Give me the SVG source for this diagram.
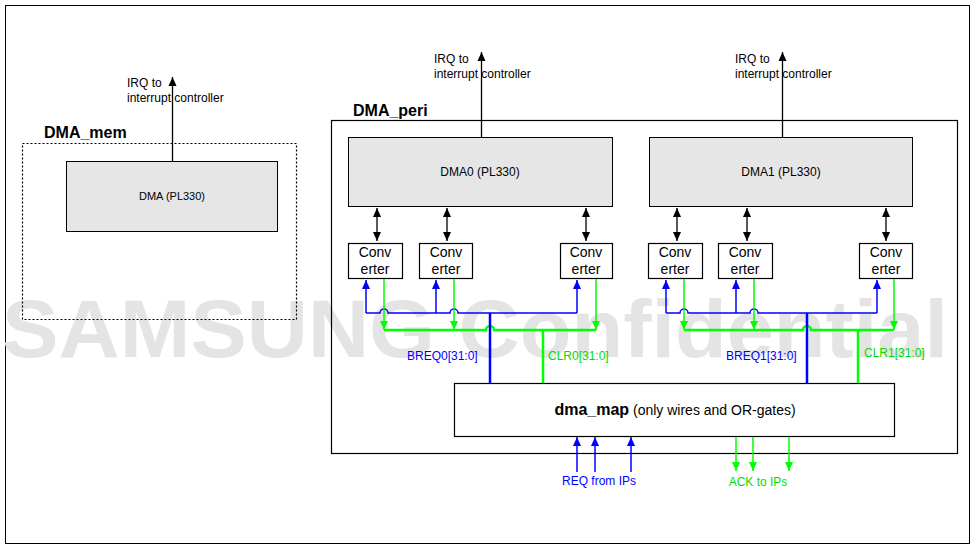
<svg xmlns="http://www.w3.org/2000/svg" width="978" height="550" viewBox="0 0 978 550">
<defs>
<style>
text{font-family:"Liberation Sans",Arial,sans-serif;}
.box{fill:#fff;stroke:#000;stroke-width:1.2}
.dma{fill:#e6e6e6;stroke:#000;stroke-width:1}
.k{stroke:#000;stroke-width:1.3;fill:none}
.b{stroke:#0000ff;stroke-width:1.5;fill:none}
.g{stroke:#00ff00;stroke-width:1.5;fill:none}
.bw{stroke:#0000ff;stroke-width:2.5;fill:none}
.gw{stroke:#00ff00;stroke-width:2.5;fill:none}
.t{font-size:12px}
.c{font-size:14px;text-anchor:middle}
</style>
<marker id="ak" markerWidth="10" markerHeight="10" refX="9" refY="5" orient="auto-start-reverse" markerUnits="userSpaceOnUse"><path d="M0,1 L9,5 L0,9 Z" fill="#000"/></marker>
<marker id="ab" markerWidth="10" markerHeight="10" refX="9" refY="5" orient="auto" markerUnits="userSpaceOnUse"><path d="M0,1 L9,5 L0,9 Z" fill="#0000ff"/></marker>
<marker id="ag" markerWidth="10" markerHeight="10" refX="9" refY="5" orient="auto" markerUnits="userSpaceOnUse"><path d="M0,1 L9,5 L0,9 Z" fill="#00ff00"/></marker>
</defs>
<rect x="0" y="0" width="978" height="550" fill="#fff"/>
<rect x="5.5" y="5.5" width="964" height="538" fill="none" stroke="#000" stroke-width="1"/>
<text x="2" y="357" font-size="82" font-weight="bold" fill="#e4e4e4" textLength="946" lengthAdjust="spacingAndGlyphs">SAMSUNG Confidential</text>

<g id="dma_mem">
<rect x="22.5" y="143.5" width="274" height="176" fill="none" stroke="#000" stroke-width="1.2" stroke-dasharray="2,2"/>
<text x="44" y="138" font-size="16" font-weight="bold">DMA_mem</text>
<rect class="dma" x="66.5" y="161.5" width="211" height="70"/>
<text x="172" y="200" font-size="11" text-anchor="middle">DMA (PL330)</text>
<text x="127" y="87" class="t">IRQ to</text>
<text x="127" y="102" class="t">interrupt controller</text>
</g>

<g id="dma_peri">
<rect x="331.5" y="120.5" width="626" height="333" fill="none" stroke="#000" stroke-width="1.2"/>
<text x="353" y="116" font-size="16" font-weight="bold">DMA_peri</text>
<text x="434" y="63" class="t">IRQ to</text>
<text x="434" y="78" class="t">interrupt controller</text>
<text x="735" y="63" class="t">IRQ to</text>
<text x="735" y="78" class="t">interrupt controller</text>
</g>
<g id="dma0"><rect class="dma" x="348.5" y="137.5" width="264" height="69"/><text x="480" y="176" font-size="12" text-anchor="middle">DMA0 (PL330)</text></g>
<g id="dma1"><rect class="dma" x="649.5" y="137.5" width="263" height="69"/><text x="781" y="176" font-size="12" text-anchor="middle">DMA1 (PL330)</text></g>

<g id="conv0a"><rect class="box" x="348.5" y="243.5" width="54" height="35"/><text class="c" x="375" y="257">Conv</text><text class="c" x="375" y="274">erter</text></g>
<g id="conv0b"><rect class="box" x="419.5" y="243.5" width="53" height="35"/><text class="c" x="446" y="257">Conv</text><text class="c" x="446" y="274">erter</text></g>
<g id="conv0c"><rect class="box" x="560.5" y="243.5" width="52" height="35"/><text class="c" x="586" y="257">Conv</text><text class="c" x="586" y="274">erter</text></g>
<g id="conv1a"><rect class="box" x="648.5" y="243.5" width="54" height="35"/><text class="c" x="675" y="257">Conv</text><text class="c" x="675" y="274">erter</text></g>
<g id="conv1b"><rect class="box" x="718.5" y="243.5" width="54" height="35"/><text class="c" x="745" y="257">Conv</text><text class="c" x="745" y="274">erter</text></g>
<g id="conv1c"><rect class="box" x="859.5" y="243.5" width="53" height="35"/><text class="c" x="886" y="257">Conv</text><text class="c" x="886" y="274">erter</text></g>

<g id="dma_map"><rect class="box" x="454.5" y="383.5" width="440" height="53"/>
<text x="675" y="415" font-size="14" text-anchor="middle"><tspan font-weight="bold" font-size="16">dma_map</tspan> (only wires and OR-gates)</text></g>

<g id="connectors">
<line class="k" x1="172.5" y1="161" x2="172.5" y2="77" marker-end="url(#ak)"/>
<line class="k" x1="481.5" y1="137" x2="481.5" y2="52" marker-end="url(#ak)"/>
<line class="k" x1="782.5" y1="137" x2="782.5" y2="52" marker-end="url(#ak)"/>
<g class="k">
<line x1="377" y1="208" x2="377" y2="241" marker-start="url(#ak)" marker-end="url(#ak)"/>
<line x1="447" y1="208" x2="447" y2="241" marker-start="url(#ak)" marker-end="url(#ak)"/>
<line x1="586" y1="208" x2="586" y2="241" marker-start="url(#ak)" marker-end="url(#ak)"/>
<line x1="677" y1="208" x2="677" y2="241" marker-start="url(#ak)" marker-end="url(#ak)"/>
<line x1="747" y1="208" x2="747" y2="241" marker-start="url(#ak)" marker-end="url(#ak)"/>
<line x1="886" y1="208" x2="886" y2="241" marker-start="url(#ak)" marker-end="url(#ak)"/>
</g>
<!-- group 0 -->
<path class="b" d="M366,313 H380 a4,4 0 0 1 8,0 H450 a4,4 0 0 1 8,0 H577"/>
<line class="b" x1="366" y1="313" x2="366" y2="280" marker-end="url(#ab)"/>
<line class="b" x1="436" y1="313" x2="436" y2="280" marker-end="url(#ab)"/>
<line class="b" x1="577" y1="313" x2="577" y2="280" marker-end="url(#ab)"/>
<line class="g" x1="384" y1="279" x2="384" y2="330" marker-end="url(#ag)"/>
<line class="g" x1="454" y1="279" x2="454" y2="330" marker-end="url(#ag)"/>
<line class="g" x1="596" y1="279" x2="596" y2="330" marker-end="url(#ag)"/>
<path class="gw" d="M384,330 H486 a4,4 0 0 1 8,0 H596"/>
<line class="bw" x1="490" y1="313" x2="490" y2="383"/>
<line class="gw" x1="543" y1="330" x2="543" y2="383"/>
<!-- group 1 -->
<path class="b" d="M666,313 H680 a4,4 0 0 1 8,0 H750 a4,4 0 0 1 8,0 H877"/>
<line class="b" x1="666" y1="313" x2="666" y2="280" marker-end="url(#ab)"/>
<line class="b" x1="736" y1="313" x2="736" y2="280" marker-end="url(#ab)"/>
<line class="b" x1="877" y1="313" x2="877" y2="280" marker-end="url(#ab)"/>
<line class="g" x1="684" y1="279" x2="684" y2="330" marker-end="url(#ag)"/>
<line class="g" x1="754" y1="279" x2="754" y2="330" marker-end="url(#ag)"/>
<line class="g" x1="894" y1="279" x2="894" y2="330" marker-end="url(#ag)"/>
<path class="gw" d="M684,330 H803 a4,4 0 0 1 8,0 H894"/>
<line class="bw" x1="807" y1="313" x2="807" y2="383"/>
<line class="gw" x1="858" y1="330" x2="858" y2="383"/>
<!-- IPs -->
<line class="b" x1="577" y1="472" x2="577" y2="437" marker-end="url(#ab)"/>
<line class="b" x1="595" y1="472" x2="595" y2="437" marker-end="url(#ab)"/>
<line class="b" x1="631" y1="472" x2="631" y2="437" marker-end="url(#ab)"/>
<line class="g" x1="736" y1="437" x2="736" y2="471" marker-end="url(#ag)"/>
<line class="g" x1="753" y1="437" x2="753" y2="471" marker-end="url(#ag)"/>
<line class="g" x1="789" y1="437" x2="789" y2="471" marker-end="url(#ag)"/>
</g>
<g id="labels" font-size="12">
<text x="407" y="360" fill="#0000ff">BREQ0[31:0]</text>
<text x="548" y="360" fill="#00dd00">CLR0[31:0]</text>
<text x="726" y="360" fill="#0000ff">BREQ1[31:0]</text>
<text x="864" y="357" fill="#00dd00">CLR1[31:0]</text>
<text x="599" y="485" fill="#0000ff" text-anchor="middle">REQ from IPs</text>
<text x="758" y="486" fill="#00dd00" text-anchor="middle">ACK to IPs</text>
</g>
</svg>
